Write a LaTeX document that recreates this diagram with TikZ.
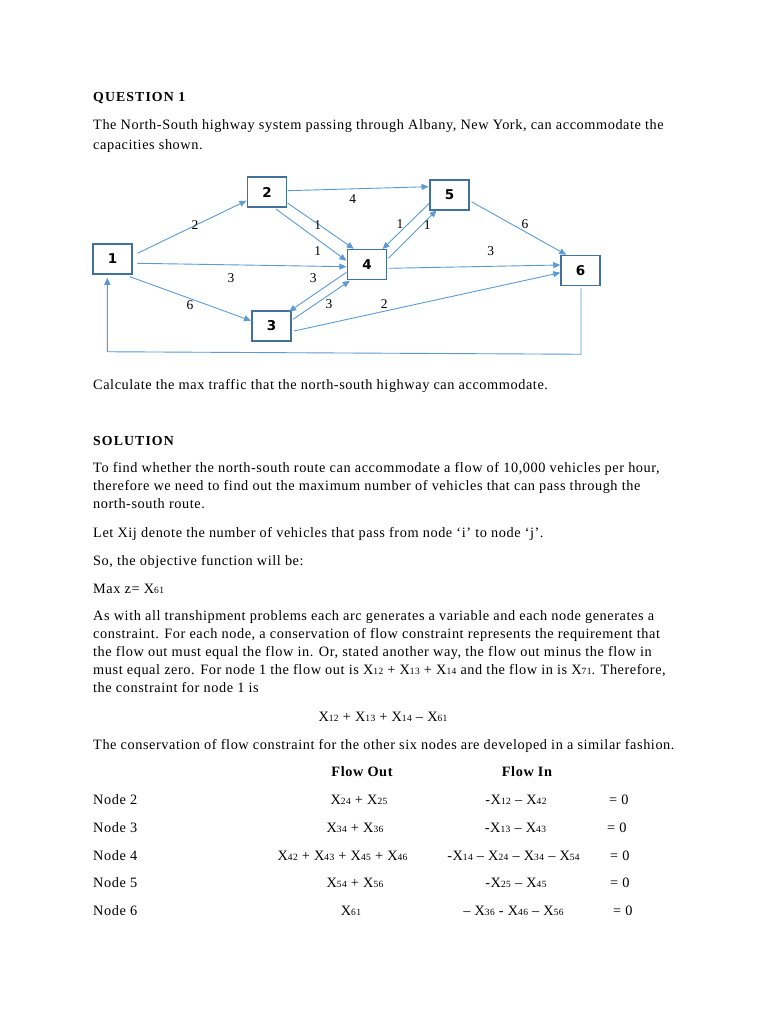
\documentclass[tikz,border=0pt]{standalone}
\usepackage{fontspec}
\setmainfont{Liberation Serif}[LetterSpace=4]
\newfontfamily\headfont[LetterSpace=8]{Liberation Serif}
\newfontfamily\numfont{DejaVu Sans}
\usetikzlibrary{arrows.meta,calc}
\definecolor{edgeblue}{HTML}{5B9BD5}
\definecolor{boxblue}{HTML}{41719C}
\newcommand\bodyfont{\fontsize{14.3}{16}\selectfont}
\newcommand\sx[1]{X\raisebox{-0.6pt}{\fontsize{9.5}{9.5}\selectfont #1}}
\tikzset{
  txt/.style={anchor=base west, inner sep=0pt, font=\bodyfont},
  ctxt/.style={anchor=base, inner sep=0pt, font=\bodyfont},
  head/.style={anchor=base west, inner sep=0pt, font=\headfont\bfseries\fontsize{13.8}{16}\selectfont},
  colhead/.style={anchor=base, inner sep=0pt, font=\bfseries\fontsize{14.3}{16}\selectfont},
  netbox/.style={draw=boxblue, line width=1.5pt, minimum width=39pt, minimum height=30pt, inner sep=0pt, font=\numfont\bfseries\fontsize{13.5}{13.5}\selectfont},
  arr/.style={draw=edgeblue, line width=0.9pt, -{Triangle[width=6pt,length=7pt]}},
  lbl/.style={inner sep=0pt, font=\fontsize{13.5}{13.5}\selectfont}
}
\begin{document}
\begin{tikzpicture}[x=1pt,y=-1pt]
\useasboundingbox (0,0) rectangle (768,1024);
\fill[white] (0,0) rectangle (768,1024);

% texts
\node[head] (q1) at (93,102) {QUESTION 1};
\node[txt] (t1) at (93,130) {The North-South highway system passing through Albany, New York, can accommodate the};
\node[txt] (t2) at (93,150) {capacities shown.};

% network
\node[netbox] (n1) at (112.5,259) {1};
\node[netbox] (n2) at (267,192) {2};
\node[netbox] (n3) at (271.5,326) {3};
\node[netbox] (n4) at (367,264.5) {4};
\node[netbox] (n5) at (449.5,195) {5};
\node[netbox] (n6) at (580.5,270.5) {6};

\draw[arr] ([shift={(4.7,-5.7)}]n1.east) -- ([shift={(-0.3,8.7)}]n2.west);
\draw[arr] ([shift={(4.7,4.3)}]n1.east) -- ([shift={(-0.3,2.2)}]n4.west);
\draw[arr] ([shift={(-2.7,2)}]n1.south east) -- ([shift={(-0.3,-5.3)}]n3.west);
\draw[arr] ([shift={(0.3,-1.3)}]n2.east) -- ([shift={(-0.7,-8.3)}]n5.west);
\draw[arr] ([shift={(0.3,-4.7)}]n2.south east) -- ([shift={(7,0)}]n4.north west);
\draw[arr] ([shift={(9,1.3)}]n2.south) -- ([shift={(-0.3,-3.8)}]n4.west);
\draw[arr] ([shift={(-0.3,7.8)}]n4.west) -- ([shift={(-2.7,1.3)}]n3.north east);
\draw[arr] ([shift={(1.3,-6.7)}]n3.east) -- ([shift={(3,0.5)}]n4.south west);
\draw[arr] ([shift={(2.3,5)}]n3.east) -- ([shift={(0,2.2)}]n6.west);
\draw[arr] ([shift={(0,8.3)}]n5.west) -- ([shift={(-4.7,0.3)}]n4.north east);
\draw[arr] ([shift={(1.3,-6.2)}]n4.east) -- ([shift={(7.3,-0.5)}]n5.south west);
\draw[arr] ([shift={(1.3,3.8)}]n4.east) -- ([shift={(0,-5.5)}]n6.west);
\draw[arr] ([shift={(1.7,6.7)}]n5.east) -- ([shift={(6,0)}]n6.north west);
\draw[arr] ([shift={(0.5,2)}]n6.south) -- ([shift={(0.5,68)}]n6.south) -- ([shift={(-5.2,77)}]n1.south) -- ([shift={(-5.2,3)}]n1.south);

\node[lbl] (l12) at (195,225) {2};
\node[lbl] (l14) at (231,278) {3};
\node[lbl] (l13) at (190,305) {6};
\node[lbl] (l25) at (352.7,199.3) {4};
\node[lbl] (l24a) at (317.7,225) {1};
\node[lbl] (l24b) at (317.7,250.7) {1};
\node[lbl] (l43) at (313.3,278.3) {3};
\node[lbl] (l34) at (329,304) {3};
\node[lbl] (l36) at (384.3,304) {2};
\node[lbl] (l54) at (400,224.3) {1};
\node[lbl] (l45) at (427.3,225) {1};
\node[lbl] (l46) at (490.7,251) {3};
\node[lbl] (l56) at (525,224.3) {6};

\node[txt] (t3) at (93,389) {Calculate the max traffic that the north-south highway can accommodate.};
\node[head] (sol) at (93,445) {SOLUTION};
\node[txt] (t4) at (93,472) {To find whether the north-south route can accommodate a flow of 10,000 vehicles per hour,};
\node[txt] (t5) at (93,490) {therefore we need to find out the maximum number of vehicles that can pass through the};
\node[txt] (t6) at (93,508) {north-south route.};
\node[txt] (t7) at (93,537) {Let Xij denote the number of vehicles that pass from node ‘i’ to node ‘j’.};
\node[txt] (t8) at (93,565) {So, the objective function will be:};
\node[txt] (t9) at (93,593) {Max z= \sx{61}};
\node[txt] (t10) at (93,620) {As with all transhipment problems each arc generates a variable and each node generates a};
\node[txt] (t11) at (93,638) {constraint. For each node, a conservation of flow constraint represents the requirement that};
\node[txt] (t12) at (93,656) {the flow out must equal the flow in. Or, stated another way, the flow out minus the flow in};
\node[txt] (t13) at (93,674) {must equal zero. For node 1 the flow out is \sx{12} + \sx{13} + \sx{14} and the flow in is \sx{71}. Therefore,};
\node[txt] (t14) at (93,692) {the constraint for node 1 is};
\node[ctxt] (eq) at (383,721) {\sx{12} + \sx{13} + \sx{14} -- \sx{61}};
\node[txt] (t15) at (93,749) {The conservation of flow constraint for the other six nodes are developed in a similar fashion.};

\node[colhead] (fo) at (362,776) {Flow Out};
\node[colhead] (fi) at (527,776) {Flow In};

\node[txt] (r2) at (93,804) {Node 2};
\node[ctxt] (o2) at (359,804) {\sx{24} + \sx{25}};
\node[ctxt] (i2) at (516,804) {-\sx{12} -- \sx{42}};
\node[txt] (e2) at (609,804) {= 0};

\node[txt] (r3) at (93,832) {Node 3};
\node[ctxt] (o3) at (355,832) {\sx{34} + \sx{36}};
\node[ctxt] (i3) at (515.5,832) {-\sx{13} -- \sx{43}};
\node[txt] (e3) at (607,832) {= 0};

\node[txt] (r4) at (93,860) {Node 4};
\node[ctxt] (o4) at (342.5,860) {\sx{42} + \sx{43} + \sx{45} + \sx{46}};
\node[ctxt] (i4) at (513.5,860) {-\sx{14} -- \sx{24} -- \sx{34} -- \sx{54}};
\node[txt] (e4) at (610,860) {= 0};

\node[txt] (r5) at (93,887) {Node 5};
\node[ctxt] (o5) at (355,887) {\sx{54} + \sx{56}};
\node[ctxt] (i5) at (516,887) {-\sx{25} -- \sx{45}};
\node[txt] (e5) at (610,887) {= 0};

\node[txt] (r6) at (93,915) {Node 6};
\node[ctxt] (o6) at (351,915) {\sx{61}};
\node[ctxt] (i6) at (513.5,915) {-- \sx{36} - \sx{46} -- \sx{56}};
\node[txt] (e6) at (613,915) {= 0};
\end{tikzpicture}
\end{document}
